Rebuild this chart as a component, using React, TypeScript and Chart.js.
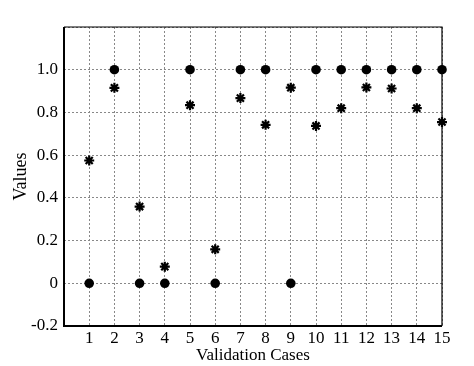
import React, { useEffect, useRef } from "react";
import { Chart, registerables } from "chart.js";

Chart.register(...registerables);

const cases = [1, 2, 3, 4, 5, 6, 7, 8, 9, 10, 11, 12, 13, 14, 15];
const circleValues = [0, 1, 0, 0, 1, 0, 1, 1, 0, 1, 1, 1, 1, 1, 1];
const starValues = [0.575, 0.915, 0.359, 0.078, 0.834, 0.159, 0.867, 0.742, 0.916, 0.737, 0.82, 0.917, 0.912, 0.82, 0.755];
const xTitle = "Validation Cases";
const yTitle = "Values";

const FONT = "'Liberation Serif', 'Times New Roman', serif";

const boxPlugin = {
  id: "box",
  afterDraw(chart: any) {
    const { ctx, chartArea } = chart;
    const { left, right, top, bottom } = chartArea;
    ctx.save();
    ctx.strokeStyle = "#000";
    ctx.setLineDash([]);
    ctx.lineWidth = 1.2;
    ctx.beginPath();
    ctx.moveTo(left, top);
    ctx.lineTo(right, top);
    ctx.lineTo(right, bottom);
    ctx.stroke();
    ctx.lineWidth = 2;
    ctx.beginPath();
    ctx.moveTo(left, top);
    ctx.lineTo(left, bottom);
    ctx.lineTo(right, bottom);
    ctx.stroke();
    ctx.restore();
  },
};

export default function App() {
  const ref = useRef<HTMLCanvasElement>(null);
  useEffect(() => {
    const chart = new Chart(ref.current!, {
      type: "scatter",
      data: {
        datasets: [
          {
            label: "circles",
            data: cases.map((c, i) => ({ x: c, y: circleValues[i] })),
            pointStyle: "circle",
            pointRadius: 4.8,
            backgroundColor: "#000",
            borderColor: "#000",
            borderWidth: 0,
          },
          {
            label: "stars",
            data: cases.map((c, i) => ({ x: c, y: starValues[i] })),
            pointStyle: "star",
            pointRadius: 5,
            backgroundColor: "#000",
            borderColor: "#000",
            borderWidth: 2.2,
          },
        ],
      },
      options: {
        animation: false,
        responsive: false,
        clip: false as any,
        layout: { padding: { top: 27, right: 32, left: 0, bottom: 0 } },
        plugins: { legend: { display: false }, tooltip: { enabled: false } },
        scales: {
          x: {
            type: "linear",
            min: 0,
            max: 15,
            afterFit(scale: any) {
              scale.height = 40;
            },
            ticks: {
              stepSize: 1,
              color: "#000",
              font: { family: FONT, size: 17 },
              padding: 2,
              maxRotation: 0,
              autoSkip: false,
              callback: (v: any) => (Number(v) === 0 ? "" : String(v)),
            },
            grid: { color: "#888", lineWidth: 1, drawTicks: false },
            border: { display: false, dash: [2, 2] },
            title: {
              display: true,
              text: xTitle,
              color: "#000",
              font: { family: FONT, size: 17 },
              padding: { top: 0, bottom: 0 },
            },
          },
          y: {
            type: "linear",
            min: -0.2,
            max: 1.2,
            afterFit(scale: any) {
              scale.width = 64;
            },
            ticks: {
              stepSize: 0.2,
              color: "#000",
              font: { family: FONT, size: 17 },
              padding: 6,
              callback: (v: any) => {
                const r = Math.round(Number(v) * 10) / 10;
                if (r > 1.05) return "";
                if (r === 0) return "0";
                return r.toFixed(1);
              },
            },
            grid: { color: "#888", lineWidth: 1, drawTicks: false },
            border: { display: false, dash: [2, 2] },
            title: {
              display: true,
              text: yTitle,
              color: "#000",
              font: { family: FONT, size: 18 },
              padding: { top: 10, bottom: 0 },
            },
          },
        },
      },
      plugins: [boxPlugin],
    });
    return () => chart.destroy();
  }, []);
  return (
    <div style={{ position: "fixed", left: 0, top: 0, width: 474, height: 366, background: "#fff" }}>
      <canvas ref={ref} width={474} height={366} style={{ width: 474, height: 366 }} />
    </div>
  );
}
